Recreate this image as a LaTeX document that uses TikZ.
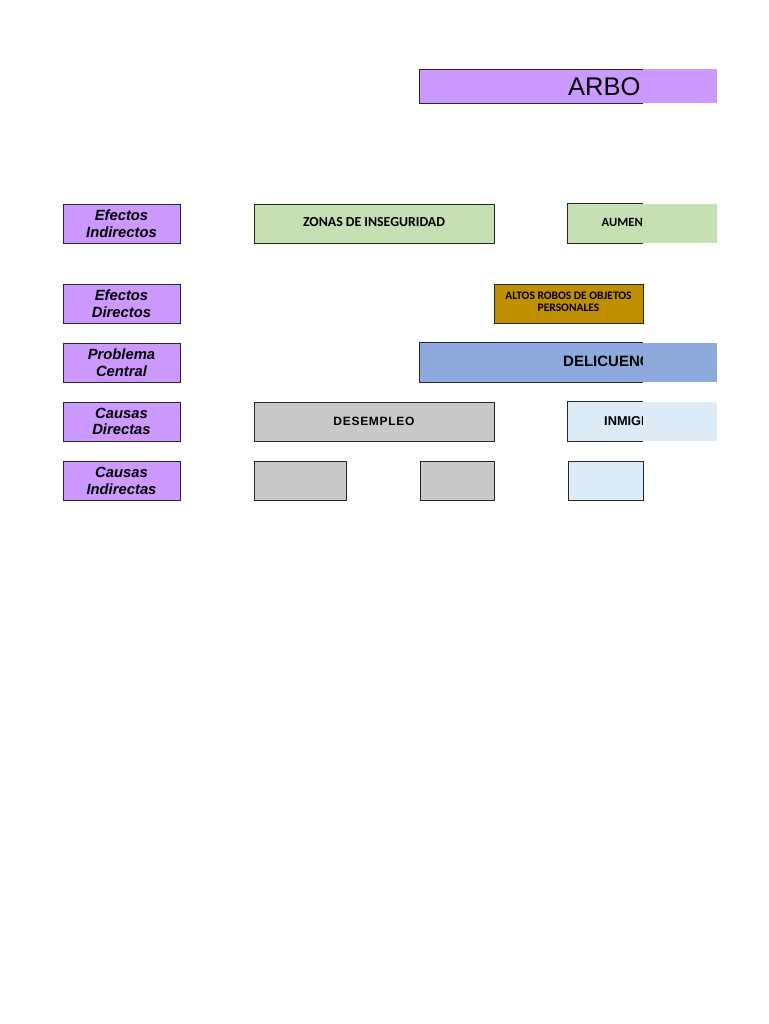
\documentclass[tikz,border=0pt]{standalone}
\usepackage{fontspec}
\usepackage{xcolor}
\usepackage{tikz}
\usetikzlibrary{calc}

\setmainfont{Liberation Sans}
\newfontfamily\calibrifont{Carlito}

\definecolor{labelpurple}{HTML}{CC99FF}
\definecolor{effectgreen}{HTML}{C6E0B4}
\definecolor{robgold}{HTML}{BF8F00}
\definecolor{centralblue}{HTML}{8EA9DB}
\definecolor{causegray}{HTML}{C9C9C9}
\definecolor{causeblue}{HTML}{DDEBF7}
\definecolor{edgegray}{HTML}{262626}

\begin{document}
\begin{tikzpicture}[
    x=1pt, y=-1pt,
    edge/.style={draw=edgegray, line width=0.8pt},
    cell/.style={edge, inner sep=0pt, minimum height=39, align=center},
    bgcell/.style={inner sep=0pt, minimum height=39},
    rowlabel/.style={cell, fill=labelpurple, minimum width=117,
        font=\fontsize{14.8}{16.8}\selectfont\bfseries\itshape}
]

% page
\fill[white] (0,0) rectangle (768,1024);
\useasboundingbox (0,0) rectangle (768,1024);

% Title (cut at the column edge)
\node[bgcell, fill=labelpurple, minimum width=297, minimum height=34] (titlebg) at (568.5,86.5) {};
\draw[edge] ($(titlebg.north west)+(223,0)$) -- (titlebg.north west) -- (titlebg.south west) -- ($(titlebg.south west)+(223,0)$);
\begin{scope}
\clip (titlebg.north west) rectangle ($(titlebg.south west)+(223,0)$);
\node[anchor=west, inner sep=0pt, font=\fontsize{25.5}{25.5}\selectfont] (title) at (568,87) {ARBO};
\end{scope}

% Row labels
\node[rowlabel] (efind) at (121.5,223.5) {Efectos\\Indirectos};
\node[rowlabel] (efdir) at (121.5,303.5) {Efectos\\Directos};
\node[rowlabel] (central) at (121.5,362.5) {Problema\\Central};
\node[rowlabel] (caudir) at (121.5,421.5) {Causas\\Directas};
\node[rowlabel] (cauind) at (121.5,481) {Causas\\Indirectas};

% Efectos indirectos
\node[cell, fill=effectgreen, minimum width=240] (zonas) at (374,223.5) {};
\node[inner sep=0pt, font=\calibrifont\fontsize{13.8}{15}\selectfont\bfseries] (zonastext) at (374,222) {ZONAS DE INSEGURIDAD};
\node[bgcell, fill=effectgreen, minimum width=149] (aumbg) at (642.5,223.5) {};
\draw[edge] ($(aumbg.north west)+(75,0)$) -- (aumbg.north west) -- (aumbg.south west) -- ($(aumbg.south west)+(75,0)$);
\begin{scope}
\clip (aumbg.north west) rectangle ($(aumbg.south west)+(75,0)$);
\node[anchor=west, inner sep=0pt, font=\calibrifont\fontsize{12.6}{13}\selectfont\bfseries] (aumento) at (601.5,222) {AUMENT};
\end{scope}

% Efectos directos
\node[cell, fill=robgold, minimum width=149] (robos) at (568.5,303.5) {};
\node[inner sep=0pt, align=center, font=\calibrifont\fontsize{11.5}{11.5}\selectfont\bfseries] (robostext) at (568.5,302) {ALTOS ROBOS DE OBJETOS\\PERSONALES};

% Problema central
\node[bgcell, fill=centralblue, minimum width=297] (delbg) at (568.5,362.5) {};
\draw[edge] ($(delbg.north west)+(223,0)$) -- (delbg.north west) -- (delbg.south west) -- ($(delbg.south west)+(223,0)$);
\begin{scope}
\clip (delbg.north west) rectangle ($(delbg.south west)+(223,0)$);
\node[anchor=west, inner sep=0pt, font=\fontsize{15}{15}\selectfont\bfseries] (delincuencia) at (563,361.5) {DELICUENC};
\end{scope}

% Causas directas
\node[cell, fill=causegray, minimum width=240, font=\addfontfeature{LetterSpace=6}\fontsize{12}{14}\selectfont\bfseries] (desempleo) at (374,421.5) {DESEMPLEO};
\node[bgcell, fill=causeblue, minimum width=149] (inmbg) at (642.5,421.5) {};
\draw[edge] ($(inmbg.north west)+(75,0)$) -- (inmbg.north west) -- (inmbg.south west) -- ($(inmbg.south west)+(75,0)$);
\begin{scope}
\clip (inmbg.north west) rectangle ($(inmbg.south west)+(75,0)$);
\node[anchor=west, inner sep=0pt, font=\fontsize{12.8}{14}\selectfont\bfseries] (inmigracion) at (604,421.5) {INMIGR};
\end{scope}

% Causas indirectas
\node[cell, fill=causegray, minimum width=92] (grayA) at (300,481) {};
\node[cell, fill=causegray, minimum width=74] (grayB) at (457,481) {};
\node[cell, fill=causeblue, minimum width=75] (blueA) at (605.5,481) {};

\end{tikzpicture}
\end{document}
